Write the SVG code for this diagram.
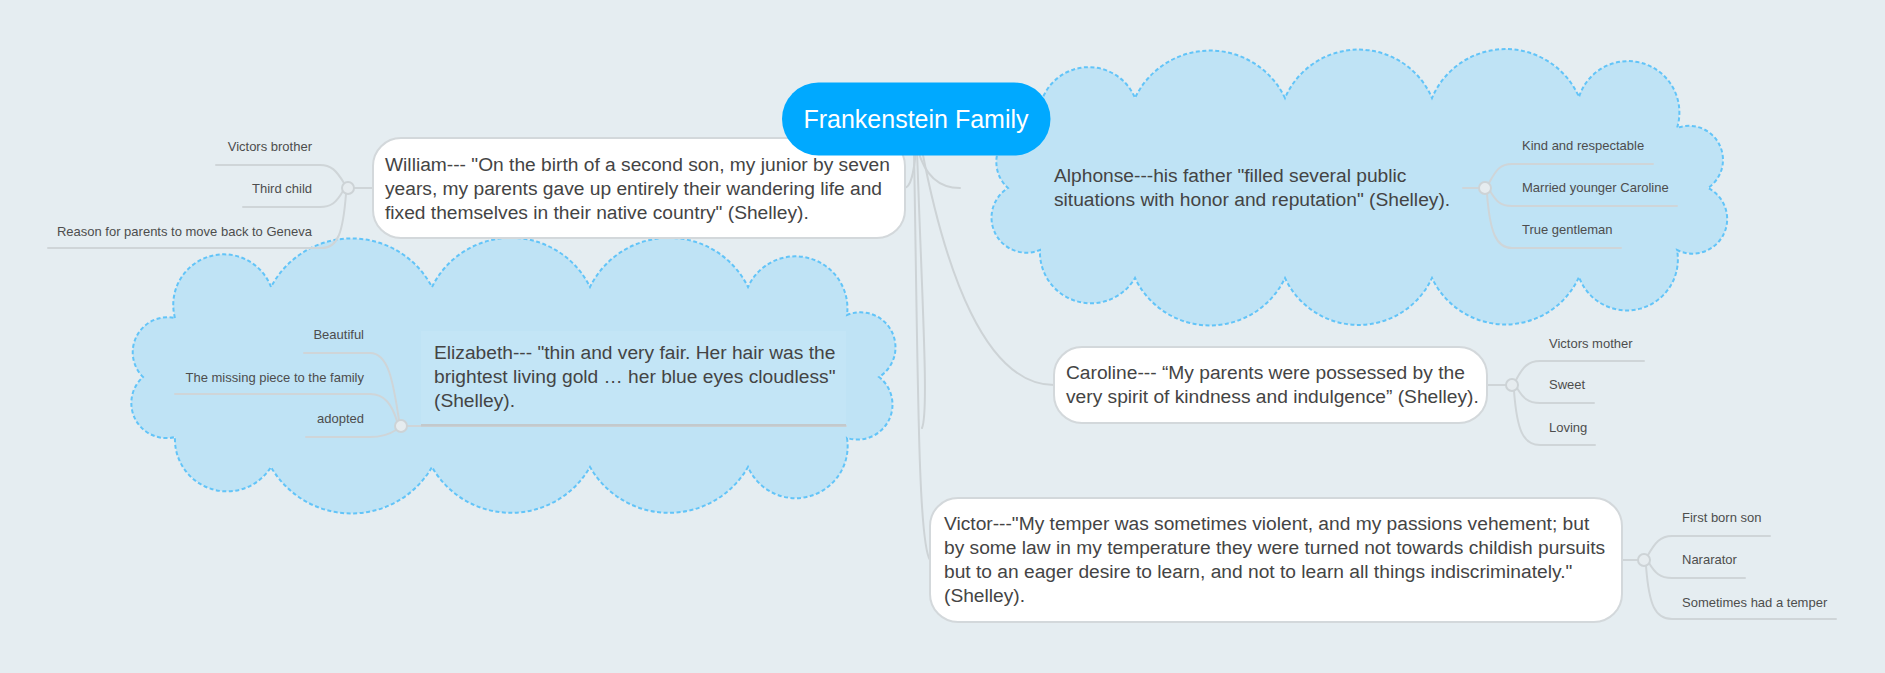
<svg xmlns="http://www.w3.org/2000/svg" width="1885" height="673" viewBox="0 0 1885 673">
<style>
.bg{fill:#e5edf1}
.cloud{fill:#bfe3f5;stroke:#62c4f8;stroke-width:2;stroke-dasharray:4 2.5}
.conn{fill:none;stroke:#cdd3d6;stroke-width:2;stroke-linecap:round}
.leafline{fill:none;stroke:#cfd5d8;stroke-width:2;stroke-linecap:round}
.box{fill:#ffffff;stroke:#d3d8db;stroke-width:2}
.dot{fill:#e6ecef;stroke:#cdd3d6;stroke-width:2}
.topic{font-family:'Liberation Sans',Arial,sans-serif;font-size:19.2px;fill:#444444}
.leaf{font-family:'Liberation Sans',Arial,sans-serif;font-size:13px;fill:#4d4d4d}
.end{text-anchor:end}
.root{font-family:'Liberation Sans',Arial,sans-serif;font-size:25px;fill:#ffffff;text-anchor:middle}
</style>
<rect class="bg" x="0" y="0" width="1885" height="673"/>

<g id="clouds">
<path id="cloud-alphonse" class="cloud" d="M1040,128 A50,50 0 0 1 1135,98 A83,83 0 0 1 1285,98 A80,80 0 0 1 1432,98 A80,80 0 0 1 1579,97 A50,50 0 0 1 1677,128 A34,34 0 0 1 1708,188 A34,34 0 0 1 1677,250 A51,51 0 0 1 1579,277 A81,81 0 0 1 1432,278 A81,81 0 0 1 1285,278 A83,83 0 0 1 1135,278 A51,51 0 0 1 1040,250 A35,35 0 0 1 1008,188 A35,35 0 0 1 1040,128 Z"/>
<path id="cloud-elizabeth" class="cloud" d="M175,318 A50.5,50.5 0 0 1 271,287 A91,91 0 0 1 432,287 A88,88 0 0 1 590,287 A88,88 0 0 1 748,287 A52,52 0 0 1 847,315 A35,35 0 0 1 879,377 A35,35 0 0 1 847,438 A52,52 0 0 1 748,467 A91,91 0 0 1 590,467 A91,91 0 0 1 432,467 A93,93 0 0 1 271,467 A52,52 0 0 1 175,437 A35,35 0 0 1 143,377 A35,35 0 0 1 175,318 Z"/>
</g>

<g id="connectors">
<path class="conn" d="M916,150 C914,172 911,188 904,188"/>
<path class="conn" d="M918,150 C925,176 940,188 960,188"/>
<path class="conn" d="M922,150 C945,270 985,385 1054,385"/>
<path class="conn" d="M917,150 C922,300 929,412 922,428"/>
<path class="conn" d="M914,150 C918,380 918,542 930,560"/>
<path class="leafline" d="M373,188 H354"/>
<path class="leafline" d="M344,183 C336,170 331,165 320,165 H216"/>
<path class="leafline" d="M343,191 C336,203 331,207 320,207 H243"/>
<path class="leafline" d="M346,194 C343,232 338,248 322,248 H48"/>
<path class="leafline" d="M407,426 H846"/>
<path class="leafline" d="M304,353 H370 C388,353 393,380 399,420"/>
<path class="leafline" d="M175,394 H370 C385,394 392,405 397,421"/>
<path class="leafline" d="M306,437 H370 C383,437 390,434 396,430"/>
<path class="leafline" d="M1463,188 H1479"/>
<path class="leafline" d="M1489,183 C1496,170 1500,164 1512,164 H1653"/>
<path class="leafline" d="M1490,191 C1496,201 1500,206 1512,206 H1677"/>
<path class="leafline" d="M1487,194 C1490,232 1496,248 1512,248 H1621"/>
<path class="leafline" d="M1487,385 H1506"/>
<path class="leafline" d="M1516,380 C1523,367 1528,361 1540,361 H1644"/>
<path class="leafline" d="M1517,388 C1523,398 1528,403 1540,403 H1594"/>
<path class="leafline" d="M1514,391 C1517,430 1523,445 1540,445 H1595"/>
<path class="leafline" d="M1622,560 H1638"/>
<path class="leafline" d="M1648,555 C1655,543 1660,536 1672,536 H1770"/>
<path class="leafline" d="M1649,563 C1655,573 1660,578 1672,578 H1745"/>
<path class="leafline" d="M1646,566 C1649,605 1655,619 1672,619 H1836"/>
</g>

<g id="william">
<rect class="box" x="373" y="138" width="532" height="100" rx="28"/>
<text class="topic" x="385" y="171">William--- "On the birth of a second son, my junior by seven</text>
<text class="topic" x="385" y="195">years, my parents gave up entirely their wandering life and</text>
<text class="topic" x="385" y="219">fixed themselves in their native country" (Shelley).</text>
<circle class="dot" cx="348" cy="188" r="6"/>
<text class="leaf end" x="312" y="151">Victors brother</text>
<text class="leaf end" x="312" y="193">Third child</text>
<text class="leaf end" x="312" y="236">Reason for parents to move back to Geneva</text>
</g>

<g id="elizabeth">
<rect x="421" y="331" width="425" height="94" fill="#c3e5f6"/>
<rect x="421" y="424" width="425" height="2.5" fill="#c3c9cc"/>
<text class="topic" x="434" y="359">Elizabeth--- "thin and very fair. Her hair was the</text>
<text class="topic" x="434" y="383">brightest living gold … her blue eyes cloudless"</text>
<text class="topic" x="434" y="407">(Shelley).</text>
<circle class="dot" cx="401" cy="426" r="6"/>
<text class="leaf end" x="364" y="339">Beautiful</text>
<text class="leaf end" x="364" y="382">The missing piece to the family</text>
<text class="leaf end" x="364" y="423">adopted</text>
</g>

<g id="alphonse">
<text class="topic" x="1054" y="182">Alphonse---his father "filled several public</text>
<text class="topic" x="1054" y="206">situations with honor and reputation" (Shelley).</text>
<circle class="dot" cx="1485" cy="188" r="6"/>
<text class="leaf" x="1522" y="150">Kind and respectable</text>
<text class="leaf" x="1522" y="192">Married younger Caroline</text>
<text class="leaf" x="1522" y="234">True gentleman</text>
</g>

<g id="caroline">
<rect class="box" x="1054" y="347" width="433" height="76" rx="28"/>
<text class="topic" x="1066" y="379">Caroline--- “My parents were possessed by the</text>
<text class="topic" x="1066" y="403">very spirit of kindness and indulgence” (Shelley).</text>
<circle class="dot" cx="1512" cy="385" r="6"/>
<text class="leaf" x="1549" y="348">Victors mother</text>
<text class="leaf" x="1549" y="389">Sweet</text>
<text class="leaf" x="1549" y="432">Loving</text>
</g>

<g id="victor">
<rect class="box" x="930" y="498" width="692" height="124" rx="28"/>
<text class="topic" x="944" y="530">Victor---"My temper was sometimes violent, and my passions vehement; but</text>
<text class="topic" x="944" y="554">by some law in my temperature they were turned not towards childish pursuits</text>
<text class="topic" x="944" y="578">but to an eager desire to learn, and not to learn all things indiscriminately."</text>
<text class="topic" x="944" y="602">(Shelley).</text>
<circle class="dot" cx="1644" cy="560" r="6"/>
<text class="leaf" x="1682" y="522">First born son</text>
<text class="leaf" x="1682" y="564">Nararator</text>
<text class="leaf" x="1682" y="607">Sometimes had a temper</text>
</g>

<g id="root">
<rect x="782" y="82.5" width="268.5" height="73" rx="36.5" fill="#00a9ff"/>
<text class="root" x="916" y="128">Frankenstein Family</text>
</g>
</svg>
